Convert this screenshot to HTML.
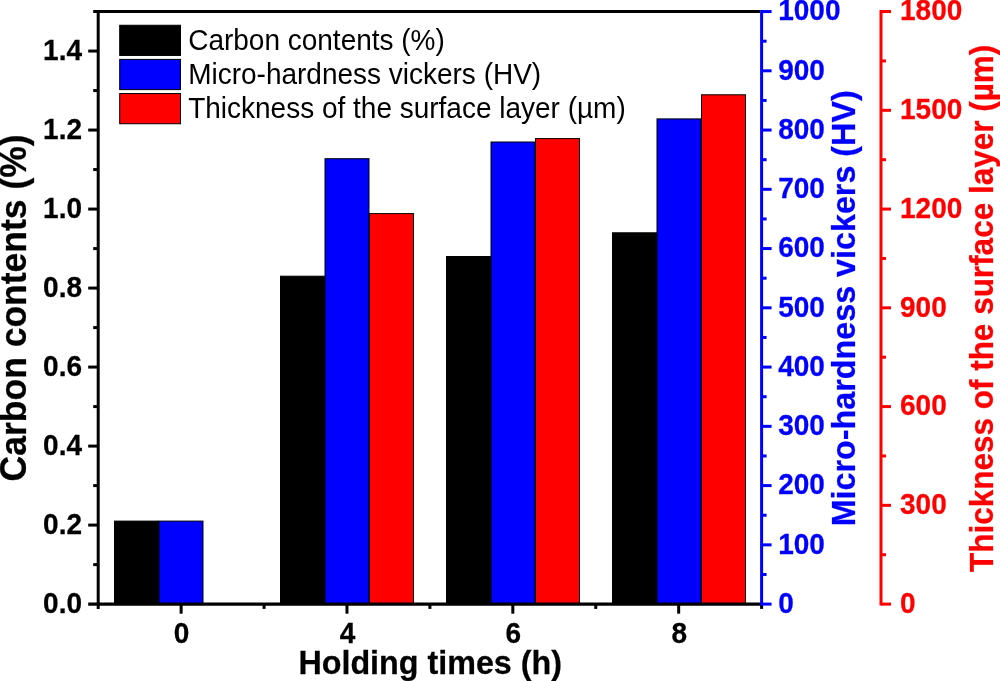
<!DOCTYPE html>
<html lang="en"><head><meta charset="utf-8"><title>Holding times chart</title>
<style>html,body{margin:0;padding:0;background:#fff;}body{width:1000px;height:681px;overflow:hidden;}svg{display:block;}text{font-family:"Liberation Sans", Arial, Helvetica, sans-serif;}</style>
</head><body>
<svg width="1000" height="681" viewBox="0 0 1000 681">
<rect x="0" y="0" width="1000" height="681" fill="#ffffff"/>
<g stroke="#000" stroke-width="1">
<rect x="114.50" y="521.10" width="44.00" height="83.00" fill="#000000"/>
<rect x="159.00" y="521.10" width="44.00" height="83.00" fill="#0000ff"/>
<rect x="280.50" y="276.20" width="44.00" height="327.90" fill="#000000"/>
<rect x="325.00" y="158.70" width="44.00" height="445.40" fill="#0000ff"/>
<rect x="369.50" y="213.60" width="44.00" height="390.50" fill="#ff0000"/>
<rect x="446.50" y="256.50" width="44.00" height="347.60" fill="#000000"/>
<rect x="491.00" y="142.00" width="44.00" height="462.10" fill="#0000ff"/>
<rect x="535.50" y="138.60" width="44.00" height="465.50" fill="#ff0000"/>
<rect x="612.50" y="232.80" width="44.00" height="371.30" fill="#000000"/>
<rect x="657.00" y="118.90" width="44.00" height="485.20" fill="#0000ff"/>
<rect x="701.50" y="94.80" width="44.00" height="509.30" fill="#ff0000"/>
</g>
<g stroke="#000" stroke-width="3" fill="none" stroke-linecap="butt">
<line x1="98.20" y1="10.05" x2="98.20" y2="608.90"/>
<line x1="93.20" y1="11.55" x2="760.10" y2="11.55"/>
<line x1="88.20" y1="604.10" x2="763.10" y2="604.10" stroke-width="3.4"/>
<line x1="93.20" y1="564.60" x2="98.20" y2="564.60"/>
<line x1="88.20" y1="525.09" x2="98.20" y2="525.09"/>
<line x1="93.20" y1="485.59" x2="98.20" y2="485.59"/>
<line x1="88.20" y1="446.09" x2="98.20" y2="446.09"/>
<line x1="93.20" y1="406.58" x2="98.20" y2="406.58"/>
<line x1="88.20" y1="367.08" x2="98.20" y2="367.08"/>
<line x1="93.20" y1="327.58" x2="98.20" y2="327.58"/>
<line x1="88.20" y1="288.07" x2="98.20" y2="288.07"/>
<line x1="93.20" y1="248.57" x2="98.20" y2="248.57"/>
<line x1="88.20" y1="209.07" x2="98.20" y2="209.07"/>
<line x1="93.20" y1="169.56" x2="98.20" y2="169.56"/>
<line x1="88.20" y1="130.06" x2="98.20" y2="130.06"/>
<line x1="93.20" y1="90.56" x2="98.20" y2="90.56"/>
<line x1="88.20" y1="51.05" x2="98.20" y2="51.05"/>
<line x1="181.12" y1="604.10" x2="181.12" y2="613.70"/>
<line x1="346.97" y1="604.10" x2="346.97" y2="613.70"/>
<line x1="512.83" y1="604.10" x2="512.83" y2="613.70"/>
<line x1="678.68" y1="604.10" x2="678.68" y2="613.70"/>
<line x1="264.05" y1="604.10" x2="264.05" y2="608.90"/>
<line x1="429.90" y1="604.10" x2="429.90" y2="608.90"/>
<line x1="595.75" y1="604.10" x2="595.75" y2="608.90"/>
<line x1="761.60" y1="604.10" x2="761.60" y2="608.90"/>
</g>
<g stroke="#0000ff" stroke-width="3" fill="none">
<line x1="761.60" y1="10.05" x2="761.60" y2="605.60"/>
<line x1="761.60" y1="604.10" x2="771.60" y2="604.10"/>
<line x1="761.60" y1="574.47" x2="766.60" y2="574.47"/>
<line x1="761.60" y1="544.85" x2="771.60" y2="544.85"/>
<line x1="761.60" y1="515.22" x2="766.60" y2="515.22"/>
<line x1="761.60" y1="485.59" x2="771.60" y2="485.59"/>
<line x1="761.60" y1="455.96" x2="766.60" y2="455.96"/>
<line x1="761.60" y1="426.34" x2="771.60" y2="426.34"/>
<line x1="761.60" y1="396.71" x2="766.60" y2="396.71"/>
<line x1="761.60" y1="367.08" x2="771.60" y2="367.08"/>
<line x1="761.60" y1="337.45" x2="766.60" y2="337.45"/>
<line x1="761.60" y1="307.82" x2="771.60" y2="307.82"/>
<line x1="761.60" y1="278.20" x2="766.60" y2="278.20"/>
<line x1="761.60" y1="248.57" x2="771.60" y2="248.57"/>
<line x1="761.60" y1="218.94" x2="766.60" y2="218.94"/>
<line x1="761.60" y1="189.31" x2="771.60" y2="189.31"/>
<line x1="761.60" y1="159.69" x2="766.60" y2="159.69"/>
<line x1="761.60" y1="130.06" x2="771.60" y2="130.06"/>
<line x1="761.60" y1="100.43" x2="766.60" y2="100.43"/>
<line x1="761.60" y1="70.80" x2="771.60" y2="70.80"/>
<line x1="761.60" y1="41.18" x2="766.60" y2="41.18"/>
<line x1="761.60" y1="11.55" x2="771.60" y2="11.55"/>
</g>
<g stroke="#ff0000" stroke-width="3" fill="none">
<line x1="881.00" y1="10.05" x2="881.00" y2="605.60"/>
<line x1="881.00" y1="604.10" x2="891.00" y2="604.10"/>
<line x1="881.00" y1="554.72" x2="886.00" y2="554.72"/>
<line x1="881.00" y1="505.34" x2="891.00" y2="505.34"/>
<line x1="881.00" y1="455.96" x2="886.00" y2="455.96"/>
<line x1="881.00" y1="406.58" x2="891.00" y2="406.58"/>
<line x1="881.00" y1="357.20" x2="886.00" y2="357.20"/>
<line x1="881.00" y1="307.82" x2="891.00" y2="307.82"/>
<line x1="881.00" y1="258.45" x2="886.00" y2="258.45"/>
<line x1="881.00" y1="209.07" x2="891.00" y2="209.07"/>
<line x1="881.00" y1="159.69" x2="886.00" y2="159.69"/>
<line x1="881.00" y1="110.31" x2="891.00" y2="110.31"/>
<line x1="881.00" y1="60.93" x2="886.00" y2="60.93"/>
<line x1="881.00" y1="11.55" x2="891.00" y2="11.55"/>
</g>
<g font-size="28" font-weight="bold" fill="#000" stroke="#000" stroke-width="0.25" text-anchor="end">
<text transform="translate(82.0 613.00) scale(1 1.06)">0.0</text>
<text transform="translate(82.0 533.99) scale(1 1.06)">0.2</text>
<text transform="translate(82.0 454.99) scale(1 1.06)">0.4</text>
<text transform="translate(82.0 375.98) scale(1 1.06)">0.6</text>
<text transform="translate(82.0 296.97) scale(1 1.06)">0.8</text>
<text transform="translate(82.0 217.97) scale(1 1.06)">1.0</text>
<text transform="translate(82.0 138.96) scale(1 1.06)">1.2</text>
<text transform="translate(82.0 59.95) scale(1 1.06)">1.4</text>
</g>
<g font-size="28" font-weight="bold" fill="#000" stroke="#000" stroke-width="0.25" text-anchor="middle">
<text transform="translate(181.62 642.6) scale(1 1.06)">0</text>
<text transform="translate(347.47 642.6) scale(1 1.06)">4</text>
<text transform="translate(513.33 642.6) scale(1 1.06)">6</text>
<text transform="translate(679.18 642.6) scale(1 1.06)">8</text>
</g>
<g font-size="28" font-weight="bold" fill="#0000ff" stroke="#0000ff" stroke-width="0.25" text-anchor="start">
<text transform="translate(778.2 613.00) scale(1 1.06)">0</text>
<text transform="translate(778.2 553.75) scale(1 1.06)">100</text>
<text transform="translate(778.2 494.49) scale(1 1.06)">200</text>
<text transform="translate(778.2 435.24) scale(1 1.06)">300</text>
<text transform="translate(778.2 375.98) scale(1 1.06)">400</text>
<text transform="translate(778.2 316.72) scale(1 1.06)">500</text>
<text transform="translate(778.2 257.47) scale(1 1.06)">600</text>
<text transform="translate(778.2 198.22) scale(1 1.06)">700</text>
<text transform="translate(778.2 138.96) scale(1 1.06)">800</text>
<text transform="translate(778.2 79.70) scale(1 1.06)">900</text>
<text transform="translate(778.2 20.45) scale(1 1.06)">1000</text>
</g>
<g font-size="28" font-weight="bold" fill="#ff0000" stroke="#ff0000" stroke-width="0.25" text-anchor="start">
<text transform="translate(900.0 613.00) scale(1 1.06)">0</text>
<text transform="translate(900.0 514.24) scale(1 1.06)">300</text>
<text transform="translate(900.0 415.48) scale(1 1.06)">600</text>
<text transform="translate(900.0 316.72) scale(1 1.06)">900</text>
<text transform="translate(900.0 217.97) scale(1 1.06)">1200</text>
<text transform="translate(900.0 119.21) scale(1 1.06)">1500</text>
<text transform="translate(900.0 20.45) scale(1 1.06)">1800</text>
</g>
<text transform="translate(430.2 674.4) scale(1 1.04)" font-size="32.3" font-weight="bold" text-anchor="middle" fill="#000" stroke="#000" stroke-width="0.25">Holding times (h)</text>
<text transform="translate(26.0 307.9) rotate(-90) scale(1 1.04)" font-size="35.5" font-weight="bold" text-anchor="middle" fill="#000" stroke="#000" stroke-width="0.25">Carbon contents (%)</text>
<text transform="translate(855 308.3) rotate(-90) scale(1 1.04)" font-size="32.3" font-weight="bold" text-anchor="middle" fill="#0000ff" stroke="#0000ff" stroke-width="0.25">Micro-hardness vickers (HV)</text>
<text transform="translate(993.4 308.4) rotate(-90) scale(1 1.04)" font-size="31.5" font-weight="bold" text-anchor="middle" fill="#ff0000" stroke="#ff0000" stroke-width="0.25">Thickness of the surface layer (µm)</text>
<g stroke="#000" stroke-width="1">
<rect x="119.7" y="25.25" width="60.8" height="30.2" fill="#000000"/>
<rect x="119.7" y="59.40" width="60.8" height="30.2" fill="#0000ff"/>
<rect x="119.7" y="93.55" width="60.8" height="30.2" fill="#ff0000"/>
</g>
<g font-size="28" fill="#000">
<text transform="translate(188.2 49.90) scale(1 1.04)">Carbon contents (%)</text>
<text transform="translate(188.2 83.70) scale(1 1.04)">Micro-hardness vickers (HV)</text>
<text transform="translate(188.2 117.50) scale(1 1.04)">Thickness of the surface layer (µm)</text>
</g>
</svg>
</body></html>
